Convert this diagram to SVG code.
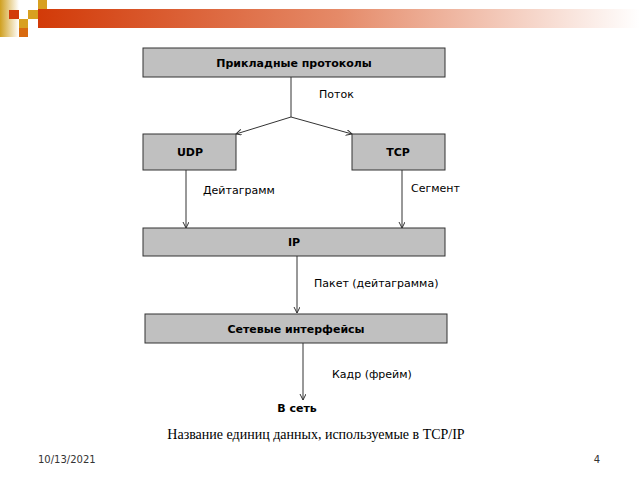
<svg xmlns="http://www.w3.org/2000/svg" width="640" height="480" viewBox="0 0 640 480">
<defs>
<linearGradient id="bar" x1="0" x2="1" y1="0" y2="0"><stop offset="0" stop-color="#d23a08"/><stop offset="0.5" stop-color="#e58a68"/><stop offset="1" stop-color="#ffffff"/></linearGradient>
<linearGradient id="yl" x1="0" x2="1" y1="0" y2="0"><stop offset="0" stop-color="#d0a020"/><stop offset="1" stop-color="#ffffff"/></linearGradient>
<marker id="a" markerWidth="8" markerHeight="8" refX="6" refY="3" orient="auto" markerUnits="userSpaceOnUse"><path d="M0,0 L6,3 L0,6" fill="none" stroke="#333" stroke-width="1"/></marker>
<style>
.box{fill:#c0c0c0;stroke:#333;stroke-width:1}
.bt{font-family:"DejaVu Sans",sans-serif;font-size:11px;font-weight:bold;text-anchor:middle;fill:#000}
.lt{font-family:"DejaVu Sans",sans-serif;font-size:11px;fill:#000}
.ln{stroke:#333;stroke-width:1;fill:none}
</style>
</defs>
<rect x="38" y="9" width="602" height="19" fill="url(#bar)"/>
<rect x="0" y="0" width="19" height="37" fill="url(#yl)"/>
<rect x="9" y="10" width="10" height="9" fill="#d23a08"/>
<rect x="28" y="10" width="10" height="9" fill="#d8a020"/>
<rect x="38" y="0" width="9" height="9" fill="#d8a020"/>
<rect x="19" y="19" width="9" height="9" fill="#d8a020"/>
<rect x="19" y="28" width="9" height="9" fill="#d86a10"/>
<g id="connectors">
<path class="ln" d="M291,77 V117"/>
<path class="ln" d="M291,117 L236,134" marker-end="url(#a)"/>
<path class="ln" d="M291,117 L352,134" marker-end="url(#a)"/>
<path class="ln" d="M186,170 V228" marker-end="url(#a)"/>
<path class="ln" d="M402,170 V228" marker-end="url(#a)"/>
<path class="ln" d="M297,256 V313" marker-end="url(#a)"/>
<path class="ln" d="M303,343 V400" marker-end="url(#a)"/>
<text class="lt" x="319" y="98">Поток</text>
<text class="lt" x="203" y="194">Дейтаграмм</text>
<text class="lt" x="411" y="192">Сегмент</text>
<text class="lt" x="314" y="287">Пакет (дейтаграмма)</text>
<text class="lt" x="332" y="378">Кадр (фрейм)</text>
</g>
<g id="app"><rect class="box" x="143" y="48" width="302" height="29"/><text class="bt" x="294" y="67">Прикладные протоколы</text></g>
<g id="udp"><rect class="box" x="143" y="134" width="93" height="36"/><text class="bt" x="190" y="156">UDP</text></g>
<g id="tcp"><rect class="box" x="352" y="134" width="93" height="36"/><text class="bt" x="398" y="156">TCP</text></g>
<g id="ip"><rect class="box" x="143" y="228" width="302" height="28"/><text class="bt" x="294" y="246">IP</text></g>
<g id="net"><rect class="box" x="145" y="314" width="302" height="29"/><text class="bt" x="296" y="333">Сетевые интерфейсы</text></g>
<g id="out"><text class="bt" x="297" y="412">В сеть</text></g>
<text x="316" y="439" font-family="Liberation Serif, serif" font-size="14" text-anchor="middle">Название единиц данных, используемые в TCP/IP</text>
<text x="38" y="463" font-family="DejaVu Sans, sans-serif" font-size="10" fill="#333">10/13/2021</text>
<text x="600" y="463" font-family="DejaVu Sans, sans-serif" font-size="10" fill="#333" text-anchor="end">4</text>
</svg>
